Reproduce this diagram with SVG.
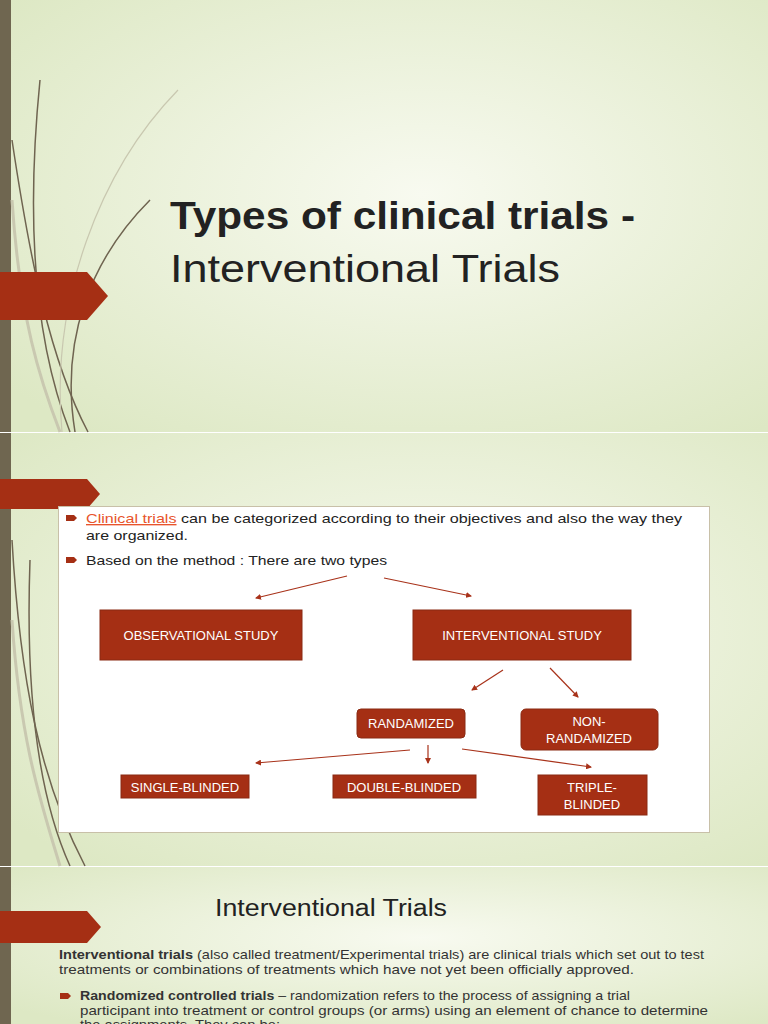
<svg xmlns="http://www.w3.org/2000/svg" width="768" height="1024" viewBox="0 0 768 1024">
<defs>
<radialGradient id="bg" cx="0.55" cy="0.45" r="0.7"><stop offset="0" stop-color="#f8faf0"/><stop offset="1" stop-color="#dde8c4"/></radialGradient>
<marker id="ah" markerWidth="6" markerHeight="6" refX="5" refY="3" orient="auto" markerUnits="userSpaceOnUse"><path d="M0,0 L6,3 L0,6 z" fill="#a8321a"/></marker>
<style>
.f{font-family:"Liberation Sans",Arial,sans-serif}
.bx{fill:#a52f14;stroke:#8a2a12;stroke-width:1}
.bt{font-family:"Liberation Sans",Arial,sans-serif;font-size:13px;fill:#fff;text-anchor:middle}
.ar{stroke:#a8321a;stroke-width:1.2;fill:none;marker-end:url(#ah)}
.tag{fill:#a52f14}
.st{fill:none;stroke:#6f6450;stroke-width:1.5}
</style>
</defs>
<rect x="0" y="0" width="768" height="432" fill="url(#bg)"/>
<rect x="0" y="433" width="768" height="433" fill="url(#bg)"/>
<rect x="0" y="867" width="768" height="157" fill="url(#bg)"/>
<rect x="0" y="0" width="11" height="1024" fill="#6f6650"/>
<line x1="0" y1="432.5" x2="768" y2="432.5" stroke="#fff" stroke-width="1"/>
<line x1="0" y1="866.5" x2="768" y2="866.5" stroke="#fff" stroke-width="1"/>
<g id="stems1">
<path class="st" d="M40,80 C28,200 30,330 70,432"/>
<path class="st" d="M12,140 C30,260 50,360 88,432"/>
<path class="st" d="M150,200 C90,260 60,340 75,432"/>
<path fill="none" stroke="#c9c8b0" stroke-width="1.2" d="M178,90 C100,170 50,300 62,432"/>
<path fill="none" stroke="#c9c8b0" stroke-width="3" d="M12,200 C20,320 40,380 60,432"/>
</g>
<g id="stems2">
<path class="st" d="M12,540 C20,680 40,780 85,866"/>
<path class="st" d="M30,560 C25,700 40,800 70,866"/>
<path fill="none" stroke="#c9c8b0" stroke-width="3" d="M12,620 C20,740 40,800 60,866"/>
</g>
<path class="tag" d="M0,272 H87 L108,296 L87,320 H0 z"/>
<path class="tag" d="M0,479 H87 L100,494 L87,509 H0 z"/>
<path class="tag" d="M0,911 H87 L101,927 L87,943 H0 z"/>
<text class="f" x="170" y="229" font-size="38" font-weight="bold" fill="#222" textLength="465" lengthAdjust="spacingAndGlyphs">Types of clinical trials -</text>
<text class="f" x="170" y="282" font-size="38" fill="#222" textLength="390" lengthAdjust="spacingAndGlyphs">Interventional Trials</text>
<rect x="58.5" y="506.5" width="651" height="326" fill="#fff" stroke="#c8c0a8"/>
<g class="f" font-size="13.5" fill="#222">
<path d="M66,515 h8 l3,3 l-3,3 h-8 z" fill="#a52f14"/>
<text x="86" y="523" textLength="596" lengthAdjust="spacingAndGlyphs"><tspan fill="#e8542c" text-decoration="underline">Clinical trials</tspan> can be categorized according to their objectives and also the way they</text>
<text x="86" y="540" textLength="102" lengthAdjust="spacingAndGlyphs">are organized.</text>
<path d="M66,557 h8 l3,3 l-3,3 h-8 z" fill="#a52f14"/>
<text x="86" y="565" textLength="301" lengthAdjust="spacingAndGlyphs">Based on the method : There are two types</text>
</g>
<g id="connectors">
<line class="ar" x1="347" y1="576" x2="256" y2="598"/>
<line class="ar" x1="384" y1="578" x2="471" y2="596"/>
<line class="ar" x1="503" y1="670" x2="472" y2="690"/>
<line class="ar" x1="550" y1="668" x2="578" y2="697"/>
<line class="ar" x1="410" y1="750" x2="256" y2="763"/>
<line class="ar" x1="428" y1="745" x2="428" y2="763"/>
<line class="ar" x1="462" y1="749" x2="591" y2="767"/>
</g>
<g id="obs"><rect class="bx" x="100" y="610" width="202" height="50"/><text class="bt" x="201" y="640">OBSERVATIONAL STUDY</text></g>
<g id="int"><rect class="bx" x="413" y="610" width="218" height="50"/><text class="bt" x="522" y="640">INTERVENTIONAL STUDY</text></g>
<g id="rand"><rect class="bx" x="357" y="709" width="108" height="29" rx="4"/><text class="bt" x="411" y="728">RANDAMIZED</text></g>
<g id="nonrand"><rect class="bx" x="521" y="709" width="137" height="41" rx="5"/><text class="bt" x="589" y="726">NON-</text><text class="bt" x="589" y="743">RANDAMIZED</text></g>
<g id="single"><rect class="bx" x="121" y="775" width="128" height="23"/><text class="bt" x="185" y="792">SINGLE-BLINDED</text></g>
<g id="double"><rect class="bx" x="333" y="775" width="143" height="23"/><text class="bt" x="404" y="792">DOUBLE-BLINDED</text></g>
<g id="triple"><rect class="bx" x="538" y="775" width="109" height="40"/><text class="bt" x="592" y="792">TRIPLE-</text><text class="bt" x="592" y="809">BLINDED</text></g>
<text class="f" x="215" y="916" font-size="23" fill="#222" textLength="232" lengthAdjust="spacingAndGlyphs">Interventional Trials</text>
<g class="f" font-size="13.5" fill="#333">
<text x="59" y="959" textLength="645" lengthAdjust="spacingAndGlyphs"><tspan font-weight="bold">Interventional trials</tspan> (also called treatment/Experimental trials) are clinical trials which set out to test</text>
<text x="59" y="974" textLength="575" lengthAdjust="spacingAndGlyphs">treatments or combinations of treatments which have not yet been officially approved.</text>
<path d="M60,993 h8 l3,3 l-3,3 h-8 z" fill="#a52f14"/>
<text x="80" y="1000" textLength="550" lengthAdjust="spacingAndGlyphs"><tspan font-weight="bold">Randomized controlled trials</tspan> – randomization refers to the process of assigning a trial</text>
<text x="80" y="1015" textLength="628" lengthAdjust="spacingAndGlyphs">participant into treatment or control groups (or arms) using an element of chance to determine</text>
<text x="80" y="1029" textLength="200" lengthAdjust="spacingAndGlyphs">the assignments. They can be:</text>
</g>
</svg>
